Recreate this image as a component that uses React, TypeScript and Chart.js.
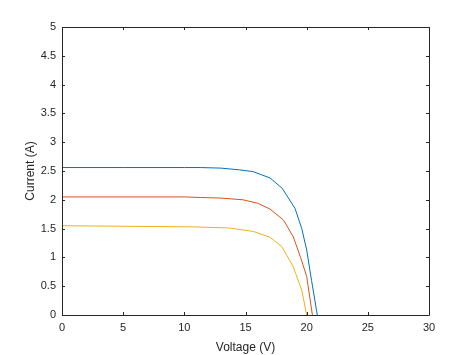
import React, { useEffect, useRef } from "react";
import { Chart, registerables } from "chart.js";

Chart.register(...registerables);

const blueV = [0, 5, 10, 11.3, 13, 14.5, 15.6, 17.0, 18.0, 19.05, 19.6, 20.0, 20.4, 20.87];
const blueI = [2.56, 2.56, 2.56, 2.56, 2.55, 2.52, 2.49, 2.38, 2.2, 1.85, 1.5, 1.13, 0.6, 0];
const redV = [0, 10, 11.3, 13, 14.8, 16.0, 17.0, 18.1, 18.9, 19.5, 20.0, 20.47];
const redI = [2.05, 2.05, 2.04, 2.03, 2.0, 1.94, 1.84, 1.65, 1.36, 1.0, 0.67, 0];
const yellowV = [0, 10.7, 13.7, 15.65, 17.0, 17.96, 18.9, 19.6, 20.0];
const yellowI = [1.55, 1.53, 1.51, 1.45, 1.35, 1.19, 0.84, 0.43, 0];

const xTicks = [0, 5, 10, 15, 20, 25, 30];
const yTicks = [0, 0.5, 1, 1.5, 2, 2.5, 3, 3.5, 4, 4.5, 5];

const AXIS_COLOR = "#262626";
const FONT = "'Liberation Sans', Arial, sans-serif";

const pts = (xs: number[], ys: number[]) => xs.map((x, i) => ({ x, y: ys[i] }));

const boxPlugin = {
  id: "matlabBox",
  afterDraw(chart: any) {
    const { ctx, chartArea } = chart;
    const xs = chart.scales.x;
    const ys = chart.scales.y;
    const { left, right, top, bottom } = chartArea;
    ctx.save();
    ctx.strokeStyle = AXIS_COLOR;
    ctx.lineWidth = 1;
    ctx.beginPath();
    ctx.rect(Math.round(left) + 0.5, Math.round(top) + 0.5, Math.round(right - left), Math.round(bottom - top));
    ctx.stroke();
    const len = 3;
    ctx.beginPath();
    xTicks.forEach((v) => {
      const px = Math.round(xs.getPixelForValue(v)) + 0.5;
      ctx.moveTo(px, bottom);
      ctx.lineTo(px, bottom - len);
      ctx.moveTo(px, top);
      ctx.lineTo(px, top + len);
    });
    yTicks.forEach((v) => {
      const py = Math.round(ys.getPixelForValue(v)) + 0.5;
      ctx.moveTo(left, py);
      ctx.lineTo(left + len, py);
      ctx.moveTo(right, py);
      ctx.lineTo(right - len, py);
    });
    ctx.stroke();
    ctx.restore();
  },
};

export default function App() {
  const ref = useRef<HTMLCanvasElement | null>(null);
  useEffect(() => {
    document.body.style.margin = "0";
    document.body.style.background = "#ffffff";
    const canvas = ref.current!;
    const chart = new Chart(canvas, {
      type: "scatter",
      data: {
        datasets: [
          { data: pts(blueV, blueI), borderColor: "#0072BD", showLine: true, pointRadius: 0, borderWidth: 1, tension: 0 },
          { data: pts(redV, redI), borderColor: "#D95319", showLine: true, pointRadius: 0, borderWidth: 1, tension: 0 },
          { data: pts(yellowV, yellowI), borderColor: "#EDB120", showLine: true, pointRadius: 0, borderWidth: 1, tension: 0 },
        ],
      },
      options: {
        animation: false,
        responsive: false,
        devicePixelRatio: 1,
        layout: { padding: { left: 0, top: 27, right: 45, bottom: 0 } },
        plugins: { legend: { display: false }, tooltip: { enabled: false } },
        scales: {
          x: {
            type: "linear",
            min: 0,
            max: 30,
            afterBuildTicks: (s: any) => { s.ticks = xTicks.map((v) => ({ value: v })); },
            afterFit: (s: any) => { s.height = 40; },
            grid: { display: false, drawTicks: false },
            border: { display: false },
            ticks: { color: AXIS_COLOR, font: { family: FONT, size: 11 }, padding: 6, maxRotation: 0, callback: (v: any) => String(Number(v)) },
            title: { display: true, text: "Voltage (V)", color: AXIS_COLOR, font: { family: FONT, size: 12 }, padding: { top: 1, bottom: 0 } },
          },
          y: {
            type: "linear",
            min: 0,
            max: 5,
            afterBuildTicks: (s: any) => { s.ticks = yTicks.map((v) => ({ value: v })); },
            afterFit: (s: any) => { s.width = 62; },
            grid: { display: false, drawTicks: false },
            border: { display: false },
            ticks: { color: AXIS_COLOR, font: { family: FONT, size: 11 }, padding: 6, callback: (v: any) => String(Number(v)) },
            title: { display: true, text: "Current (A)", color: AXIS_COLOR, font: { family: FONT, size: 12 }, padding: { top: 23, bottom: 0 } },
          },
        },
      },
      plugins: [boxPlugin],
    } as any);
    return () => chart.destroy();
  }, []);
  return <canvas ref={ref} width={474} height={355} style={{ display: "block" }} />;
}
